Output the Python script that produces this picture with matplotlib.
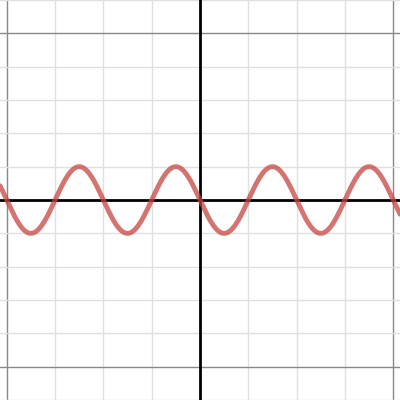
import numpy as np
import matplotlib
matplotlib.use("Agg")
import matplotlib.pyplot as plt

x_range = (-4.14, 4.14)
y_range = (-6.0, 6.0)
freq = np.pi  # y = -sin(pi x)

xs = np.linspace(*x_range, 2000)
ys = -np.sin(freq * xs)

fig = plt.figure(figsize=(4, 4), dpi=100)
ax = fig.add_axes([0, 0, 1, 1])
ax.set_xlim(*x_range)
ax.set_ylim(*y_range)

for v in np.arange(-4, 5):
    major = v % 4 == 0
    if v != 0:
        ax.axvline(v, color="#888888" if major else "#e0e0e0", lw=1.0, zorder=0)
for v in np.arange(-6, 7):
    major = v % 5 == 0
    if v != 0:
        ax.axhline(v, color="#888888" if major else "#e0e0e0", lw=1.0, zorder=0)
ax.axhline(0, color="black", lw=2, zorder=1)
ax.axvline(0, color="black", lw=2, zorder=1)

ax.plot(xs, ys, color="#c74440", alpha=0.75, lw=3.5, zorder=2, solid_capstyle="round")
ax.axis("off")
fig.savefig("out.png", dpi=100)
